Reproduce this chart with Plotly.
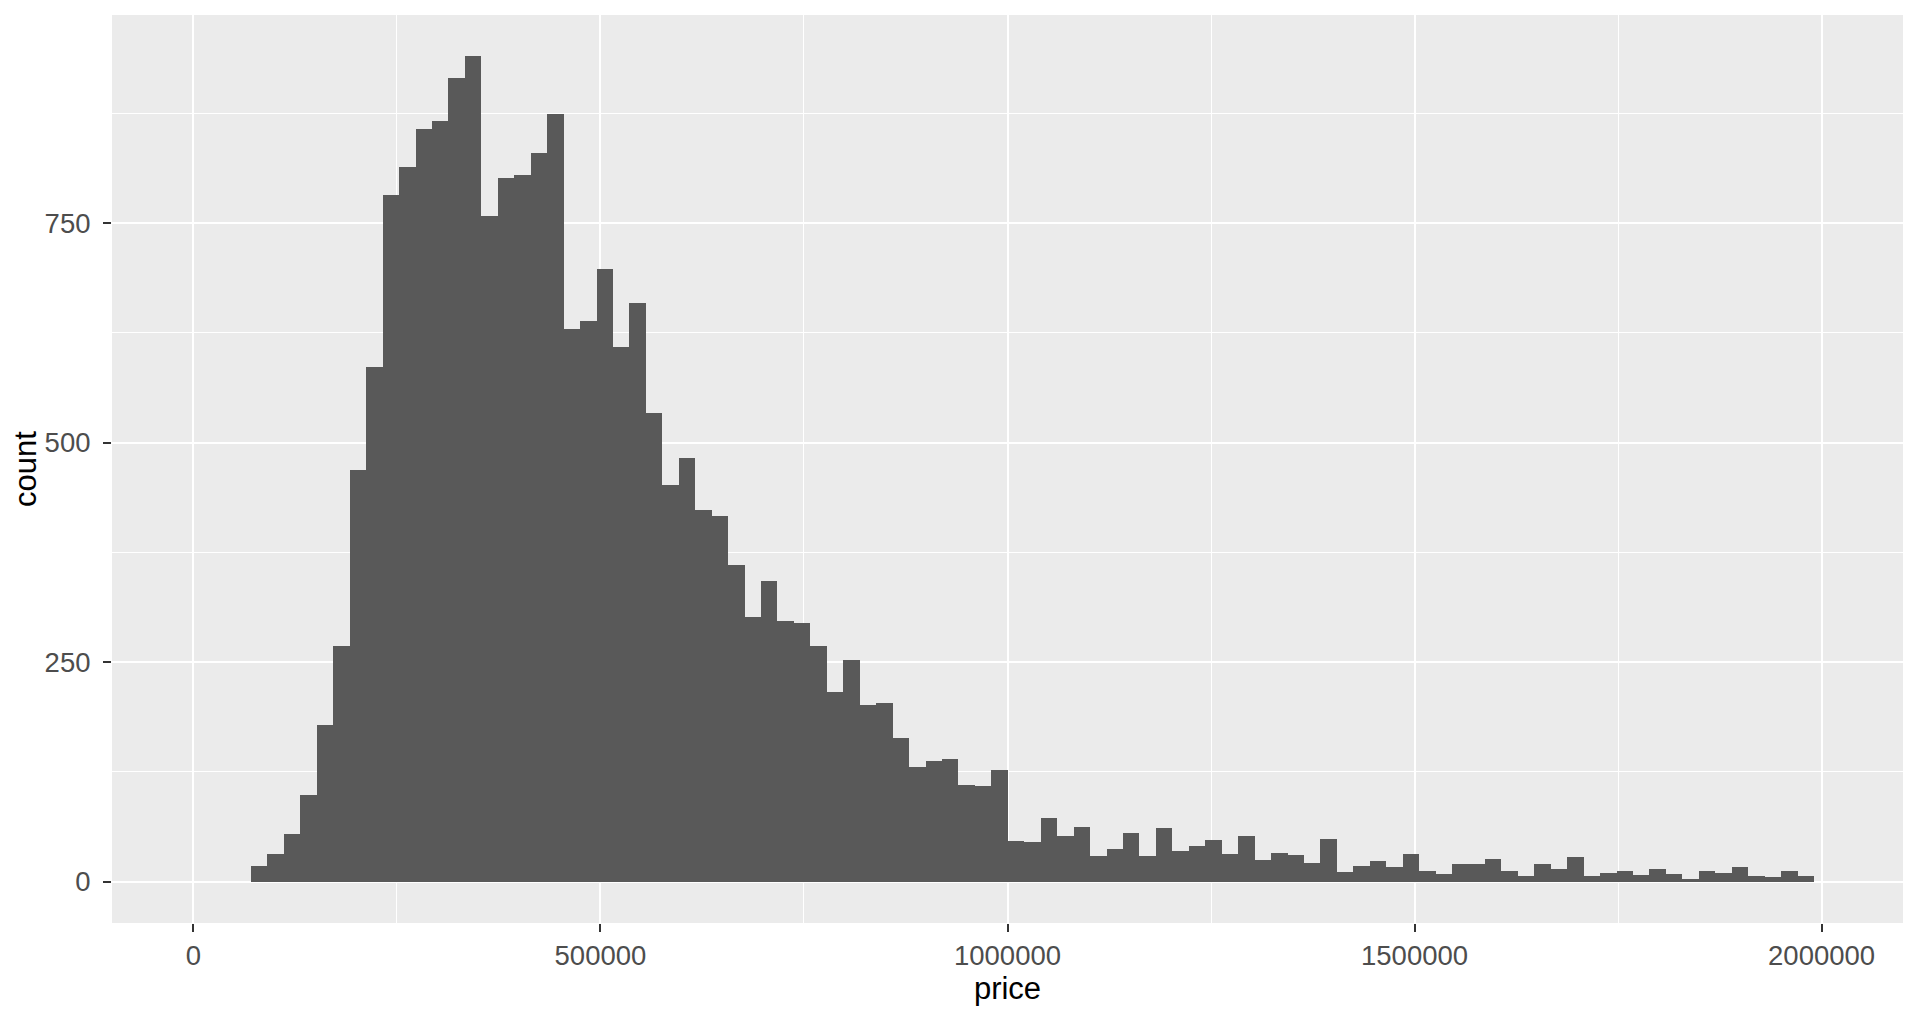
import plotly.graph_objects as go

# Histogram of price (bin counts)
bin_start = 70735
bin_width = 20210
counts = [
    18, 32, 54, 99, 179, 268, 469, 586, 782, 814,
    857, 866, 915, 940, 758, 801, 805, 830, 874, 629,
    638, 698, 609, 659, 534, 452, 483, 423, 416, 361,
    302, 343, 297, 295, 268, 216, 253, 201, 204, 164,
    131, 138, 140, 110, 109, 127, 46, 45, 73, 52,
    62, 29, 37, 55, 29, 61, 35, 41, 48, 32,
    52, 25, 33, 31, 21, 49, 11, 18, 24, 17,
    32, 12, 9, 20, 20, 26, 12, 7, 20, 14,
    28, 7, 10, 12, 8, 15, 9, 3, 12, 10,
    17, 7, 5, 12, 6,
]
bin_centers = [bin_start + bin_width * (i + 0.5) for i in range(len(counts))]

x_ticks = [0, 500000, 1000000, 1500000, 2000000]
x_minor = [250000, 750000, 1250000, 1750000]
y_ticks = [0, 250, 500, 750]
y_minor = [125, 375, 625, 875]

fig = go.Figure()
fig.add_trace(go.Bar(
    x=bin_centers,
    y=counts,
    width=bin_width,
    marker=dict(color="#595959", line=dict(width=0)),
    showlegend=False,
))

font_family = "Liberation Sans, Arial, sans-serif"

# page body has an 8px margin, so the figure is a bit smaller than the window
fig.update_layout(
    width=1904,
    height=1001,
    margin=dict(l=102, r=9, t=7, b=86),
    paper_bgcolor="white",
    plot_bgcolor="#EBEBEB",
    bargap=0,
    font=dict(family=font_family, color="black"),
)

fig.update_xaxes(
    range=[-100000, 2100000],
    tickmode="array",
    tickvals=x_ticks,
    ticktext=[str(v) for v in x_ticks],
    ticks="outside",
    ticklen=8,
    tickwidth=2,
    tickcolor="#333333",
    tickfont=dict(size=27.5, color="#4D4D4D"),
    ticklabelstandoff=0,
    showgrid=True,
    gridcolor="white",
    gridwidth=2.4,
    zeroline=False,
    showline=False,
    minor=dict(tickvals=x_minor, showgrid=True, gridcolor="white", gridwidth=1.2, ticks=""),
    title=dict(text="price", font=dict(size=31, color="black"), standoff=2),
)

fig.update_yaxes(
    range=[-47, 987],
    tickmode="array",
    tickvals=y_ticks,
    ticktext=[str(v) for v in y_ticks],
    ticks="outside",
    ticklen=8,
    tickwidth=2,
    tickcolor="#333333",
    tickfont=dict(size=27.5, color="#4D4D4D"),
    ticklabelstandoff=7,
    showgrid=True,
    gridcolor="white",
    gridwidth=2.4,
    zeroline=False,
    showline=False,
    minor=dict(tickvals=y_minor, showgrid=True, gridcolor="white", gridwidth=1.2, ticks=""),
    title=dict(text="count", font=dict(size=31, color="black"), standoff=8),
)

fig.write_html("out.html")
